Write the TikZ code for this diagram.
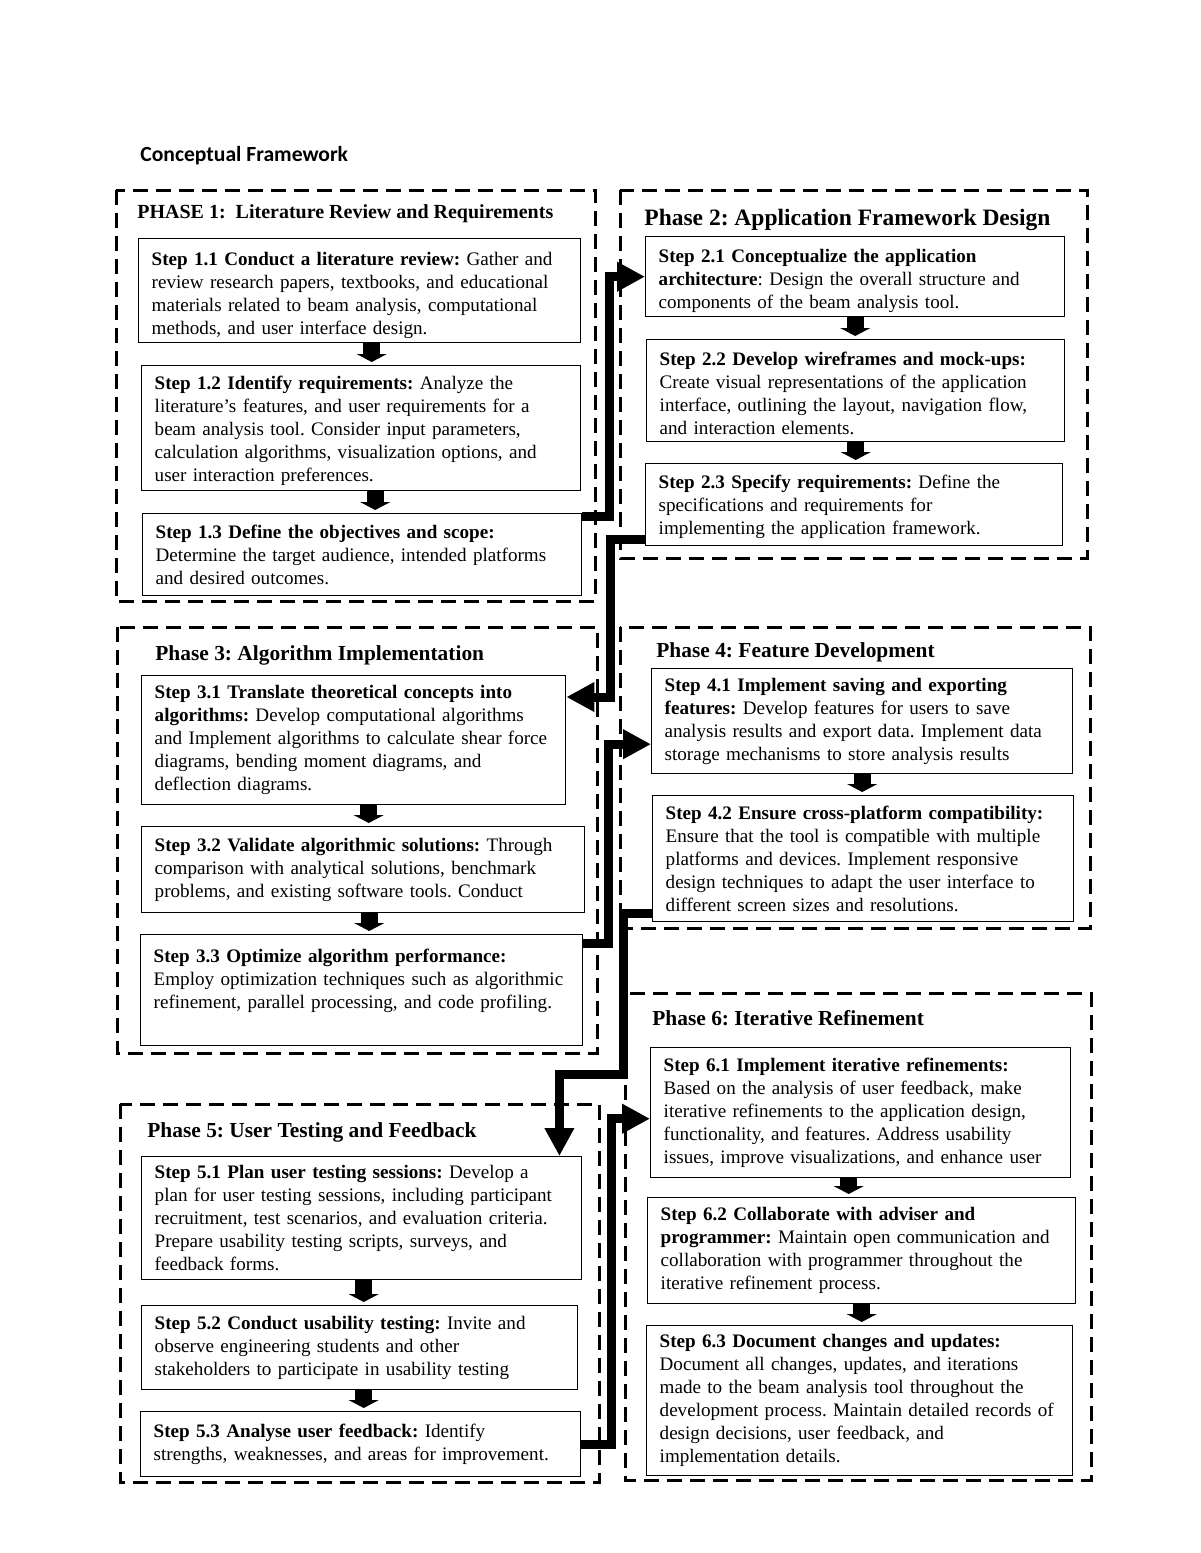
\documentclass[tikz,border=0pt]{standalone}
\usepackage{fontspec}
\setmainfont{Liberation Serif}
\newfontfamily\headfont{Carlito}
\usetikzlibrary{arrows.meta}
\frenchspacing

\begin{document}
\begin{tikzpicture}[x=0.5pt, y=-0.5pt,
		stepbox/.style 2 args={draw, line width=0.7pt, anchor=north west, align=left,
			inner xsep=6.5pt, inner ysep=0pt, text width=#1, minimum height=#2,
			font=\fontsize{9.55}{11.5}\selectfont},
		phasebox/.style={draw, line width=1.5pt, dash pattern=on 7.5pt off 4pt},
		phasetitle/.style={anchor=west, inner sep=0pt, font=\bfseries\fontsize{10.7}{12}\selectfont},
		downarr/.style={line width=8.5pt, -{Triangle[width=15pt,length=4pt]}, shorten >=1.5pt},
		flowarr/.style={line width=4.5pt, -{Triangle[width=14pt,length=14pt]}}
	]
	\useasboundingbox (0,0) rectangle (1200,1553);
	\node[anchor=west, inner sep=0pt, font=\headfont\bfseries\fontsize{10.8}{13}\selectfont] (Title) at (140,156) {Conceptual Framework};
	% phase frames
	\draw[phasebox] (116,190) rectangle (595,601);
	\draw[phasebox] (620,190) rectangle (1087,558);
	\draw[phasebox] (117,627) rectangle (597,1053);
	\draw[phasebox] (620,627) rectangle (1090,928);
	\draw[phasebox] (120,1104) rectangle (599,1482);
	\draw[phasebox] (625,993) rectangle (1091,1480);
	\node[phasetitle, font=\bfseries\fontsize{10}{12}\selectfont] (Phase1) at (137,214) {PHASE 1:~ Literature Review and Requirements};
	\node[phasetitle, font=\bfseries\fontsize{11.75}{14}\selectfont] (Phase2) at (644,220) {Phase 2: Application Framework Design};
	\node[phasetitle] (Phase3) at (155,655) {Phase 3: Algorithm Implementation};
	\node[phasetitle] (Phase4) at (656,652) {Phase 4: Feature Development};
	\node[phasetitle] (Phase5) at (147,1132) {Phase 5: User Testing and Feedback};
	\node[phasetitle] (Phase6) at (652,1018) {Phase 6: Iterative Refinement};
	% phase 1
	\node[stepbox={208pt}{52pt}, text height=11.5pt] (Step11) at (138,238) {\textbf{Step 1.1 Conduct a literature review:} Gather and\\ review research papers, textbooks, and educational\\ materials related to beam analysis, computational\\ methods, and user interface design.};
	\node[stepbox={206.5pt}{62.5pt}, text height=9.5pt] (Step12) at (141,365) {\textbf{Step 1.2 Identify requirements:} Analyze the\\ literature’s features, and user requirements for a\\ beam analysis tool. Consider input parameters,\\ calculation algorithms, visualization options, and\\ user interaction preferences.};
	\node[stepbox={206.5pt}{41pt}] (Step13) at (142,513) {\textbf{Step 1.3 Define the objectives and scope:}\\ Determine the target audience, intended platforms\\ and desired outcomes.};
	% phase 2
	\node[stepbox={196.5pt}{40pt}, text height=10.5pt] (Step21) at (645,236) {\textbf{Step 2.1 Conceptualize the application}\\ \textbf{architecture}: Design the overall structure and\\ components of the beam analysis tool.};
	\node[stepbox={196pt}{51pt}, text height=9pt] (Step22) at (646,339) {\textbf{Step 2.2 Develop wireframes and mock-ups:}\\ Create visual representations of the application\\ interface, outlining the layout, navigation flow,\\ and interaction elements.};
	\node[stepbox={195.5pt}{41pt}, text height=9pt] (Step23) at (645,463) {\textbf{Step 2.3 Specify requirements:} Define the\\ specifications and requirements for\\ implementing the application framework.};
	% phase 3
	\node[stepbox={199pt}{64.5pt}] (Step31) at (141,675) {\textbf{Step 3.1 Translate theoretical concepts into}\\ \textbf{algorithms:} Develop computational algorithms\\ and Implement algorithms to calculate shear force\\ diagrams, bending moment diagrams, and\\ deflection diagrams.};
	\node[stepbox={208.5pt}{43pt}] (Step32) at (141,826) {\textbf{Step 3.2 Validate algorithmic solutions:} Through\\ comparison with analytical solutions, benchmark\\ problems, and existing software tools. Conduct};
	\node[stepbox={208pt}{55.5pt}] (Step33) at (140,934) {\textbf{Step 3.3 Optimize algorithm performance:}\\ Employ optimization techniques such as algorithmic\\ refinement, parallel processing, and code profiling.\\ \mbox{}};
	% phase 4
	\node[stepbox={197.5pt}{52.5pt}] (Step41) at (651,668) {\textbf{Step 4.1 Implement saving and exporting}\\ \textbf{features:} Develop features for users to save\\ analysis results and export data. Implement data\\ storage mechanisms to store analysis results};
	\node[stepbox={197.5pt}{63pt}] (Step42) at (652,795) {\textbf{Step 4.2 Ensure cross-platform compatibility:}\\ Ensure that the tool is compatible with multiple\\ platforms and devices. Implement responsive\\ design techniques to adapt the user interface to\\ different screen sizes and resolutions.};
	% phase 5
	\node[stepbox={207pt}{61.5pt}] (Step51) at (141,1156) {\textbf{Step 5.1 Plan user testing sessions:} Develop a\\ plan for user testing sessions, including participant\\ recruitment, test scenarios, and evaluation criteria.\\ Prepare usability testing scripts, surveys, and\\ feedback forms.};
	\node[stepbox={205pt}{42pt}] (Step52) at (141,1305) {\textbf{Step 5.2 Conduct usability testing:} Invite and\\ observe engineering students and other\\ stakeholders to participate in usability testing};
	\node[stepbox={207pt}{32.5pt}] (Step53) at (140,1411) {\textbf{Step 5.3 Analyse user feedback:} Identify\\ strengths, weaknesses, and areas for improvement.};
	% phase 6
	\node[stepbox={197pt}{65pt}] (Step61) at (650,1047) {\textbf{Step 6.1 Implement iterative refinements:}\\ Based on the analysis of user feedback, make\\ iterative refinements to the application design,\\ functionality, and features. Address usability\\ issues, improve visualizations, and enhance user};
	\node[stepbox={201pt}{53pt}] (Step62) at (647,1197) {\textbf{Step 6.2 Collaborate with adviser and}\\ \textbf{programmer:} Maintain open communication and\\ collaboration with programmer throughout the\\ iterative refinement process.};
	\node[stepbox={200pt}{75pt}] (Step63) at (646,1325) {\textbf{Step 6.3 Document changes and updates:}\\ Document all changes, updates, and iterations\\ made to the beam analysis tool throughout the\\ development process. Maintain detailed records of\\ design decisions, user feedback, and\\ implementation details.};
	% arrows inside the phases
	\draw[downarr] ([xshift=6pt]Step11.south) -- ([xshift=6pt]Step11.south |- Step12.north);
	\draw[downarr] ([xshift=7pt]Step12.south) -- ([xshift=7pt]Step12.south |- Step13.north);
	\draw[downarr] (Step21.south) -- (Step21.south |- Step22.north);
	\draw[downarr] (Step22.south) -- (Step22.south |- Step23.north);
	\draw[downarr] ([xshift=7.5pt]Step31.south) -- ([xshift=7.5pt]Step31.south |- Step32.north);
	\draw[downarr] ([xshift=3pt]Step32.south) -- ([xshift=3pt]Step32.south |- Step33.north);
	\draw[downarr] (Step41.south) -- (Step41.south |- Step42.north);
	\draw[downarr] ([xshift=1pt]Step51.south) -- ([xshift=1pt]Step51.south |- Step52.north);
	\draw[downarr] ([xshift=2pt]Step52.south) -- ([xshift=2pt]Step52.south |- Step53.north);
	\draw[downarr] ([xshift=-6pt]Step61.south) -- ([xshift=-6pt]Step61.south |- Step62.north);
	\draw[downarr] (Step62.south) -- (Step62.south |- Step63.north);
	% arrows between the phases
	\draw[flowarr] ([yshift=-1.5pt]Step13.north east) -- ++(27,0) |- (Step21.west);
	\draw[flowarr] ([yshift=3.5pt]Step23.south west) -- ++(-35,0) |- ([yshift=-11pt]Step31.north east);
	\draw[flowarr] ([yshift=-4.5pt]Step33.north east) -- ++(25,0) |- ([yshift=-11.5pt]Step41.west);
	\draw[flowarr] ([yshift=4.5pt]Step42.south west) -- ++(-29,0) -- ++(0,161) -| ([xshift=-11.5pt]Step51.north east);
	\draw[flowarr] (Step53.east) -- ++(30,0) |- ([yshift=-3pt]Step61.west);
\end{tikzpicture}
\end{document}
